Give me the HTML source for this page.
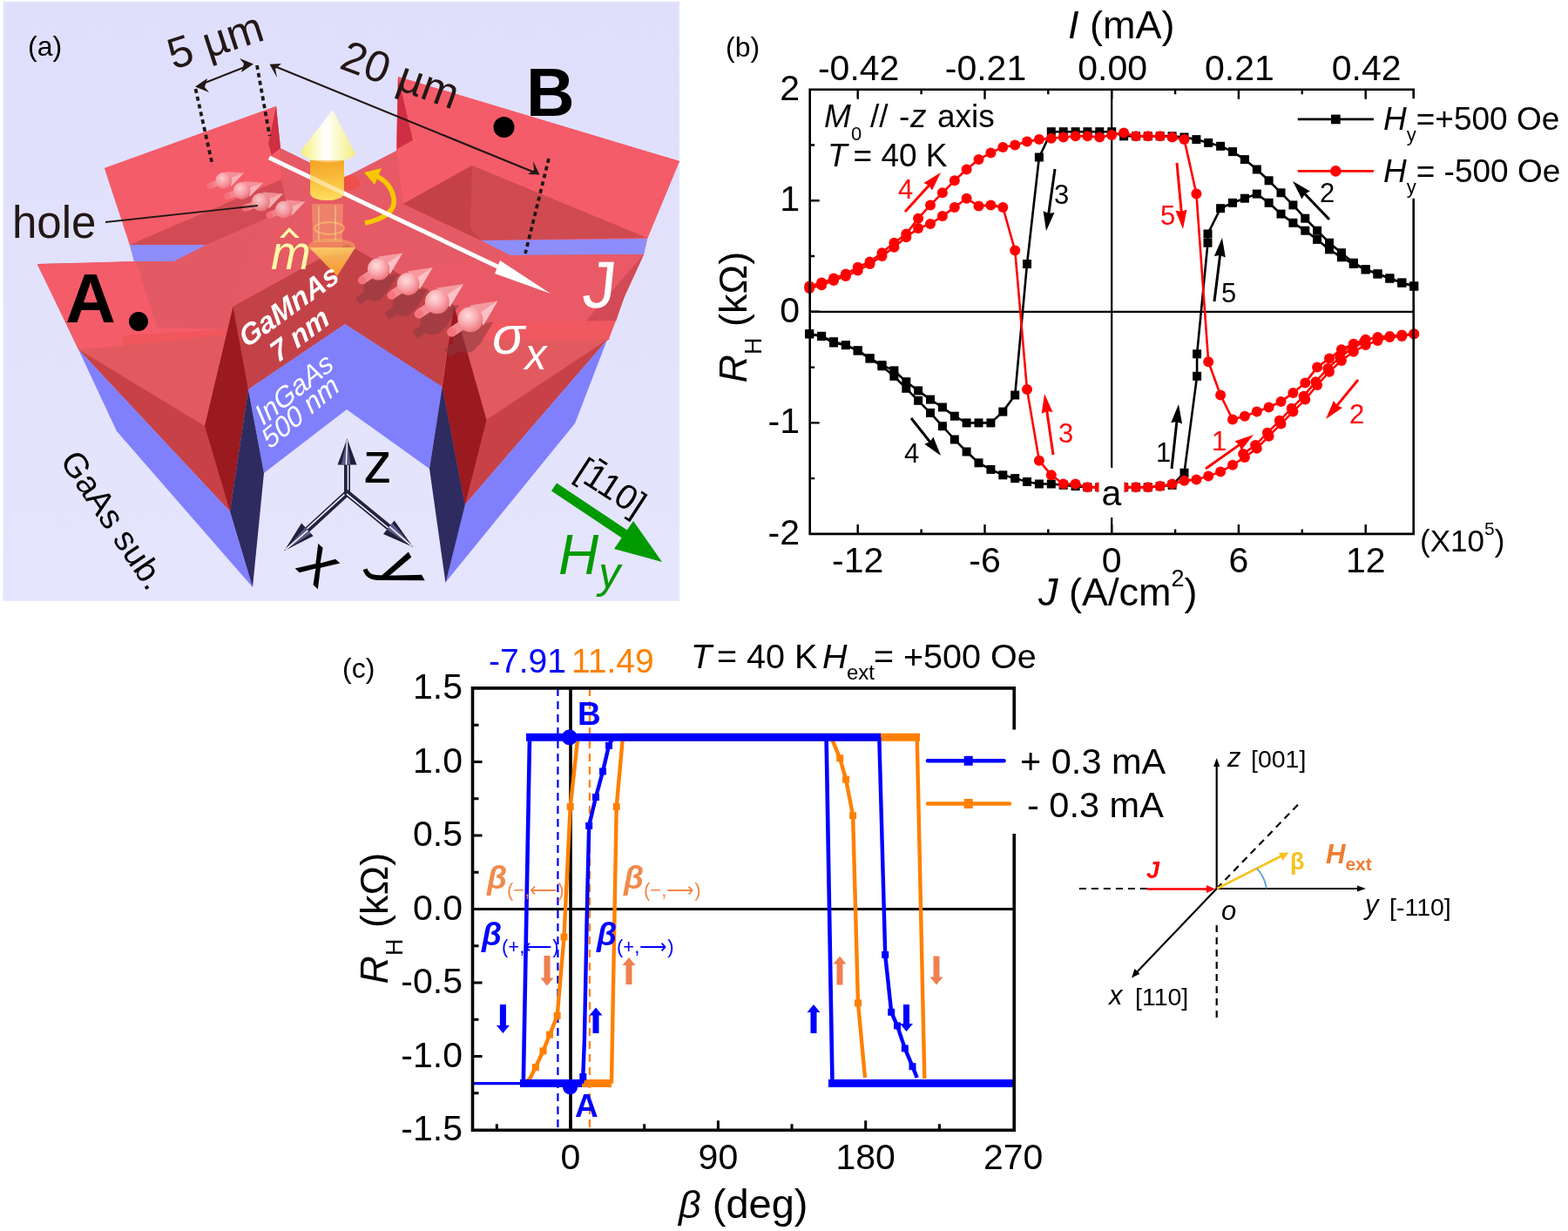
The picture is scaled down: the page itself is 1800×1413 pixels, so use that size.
<!DOCTYPE html>
<html><head><meta charset="utf-8"><title>figure</title>
<style>html,body{margin:0;padding:0;background:#fff;}svg{display:block;}</style></head>
<body><svg width="1800" height="1413" viewBox="0 0 1800 1413" font-family="'Liberation Sans', Arial, sans-serif">
<rect width="1800" height="1413" fill="#fff"/>
<g id="pa">
<linearGradient id="lav" x1="0" x2="0" y1="0" y2="1"><stop offset="0" stop-color="#dfdffc"/><stop offset="1" stop-color="#e5e5fd"/></linearGradient>
<rect x="3" y="1.5" width="777.5" height="688.5" fill="#efeffd"/>
<rect x="4.5" y="2.2" width="775" height="687.3" fill="url(#lav)"/>
<polygon points="120,193 317,122 322,170 393,205 455,173 457,88 780,185 743,274 739,292 717,340 697,390 533,580 507,444 396,372 285,447 264,587 90,401 43,303 154,300 149,281" fill="#e55a64" />
<polygon points="120,193 317,122 321,169 323,206 149,281" fill="#f55c6a" />
<polygon points="149,281 323,206 330,240 237,281" fill="#d24b54" />
<polygon points="308,165 317,122 322,170 312,178" fill="#cf2f44" />
<polygon points="149,281 237,281 200,300 154,300" fill="#8d8dfb" />
<polygon points="457,88 780,185 743,274 552,276 463,234 455,171" fill="#f55c6a" />
<polygon points="463,234 542,190 743,273 552,276" fill="#d04a52" />
<polygon points="463,234 542,190 540,262 552,276" fill="#c44247" />
<polygon points="457,88 474,161 455.7,171" fill="#cf2f44" />
<polygon points="552,276 743,274 739,292 586,293" fill="#8d8dfb" />
<polygon points="586,293 739,292 717,340 697,390 558,482 521,350 470,310" fill="#e95a66" />
<polygon points="521,372 700,389 558.5,482 535,430" fill="#e25a5f" />
<polygon points="739,292 672,369 707,369 717,340" fill="#d24a56" />
<polygon points="548,370 707,368 699,389 552,390" fill="#f1575e" />
<polygon points="43,303 200,300 237,281 300,262 267,352 235,489 90,401" fill="#e45a64" />
<polygon points="91,401 262,380 267,352 235,489" fill="#e25a5f" />
<polygon points="43,304 156,300 180,376 262,378 260,384 140,397 91,401" fill="#f55c6a" />
<polygon points="140,385 262,378 260,384 140,397" fill="#f1565c" />
<polygon points="90,401 235,489 264,587" fill="#c84146" />
<polygon points="697,390 558,482 533,580" fill="#c84146" />
<polygon points="267,352 398,280 521,350 507,444 396,372 285,447" fill="#c34247" />
<polygon points="285,447 396,372 508,444 493,538 398,470 303,543" fill="#8080fd" />
<polygon points="90,401 134,495 290,674 264,587" fill="#8080fd" />
<polygon points="697,390 660,486 511,669 533,580" fill="#8080fd" />
<polygon points="267.5,352 235,489 264,587 285,447" fill="#9b1a1f" />
<polygon points="285,447 264,587 290,674 303,543" fill="#2d2b60" />
<polygon points="521,350 507.7,444 533.7,580 558.5,482" fill="#9b1a1f" />
<polygon points="507.7,444 493,538 511.5,669 533.7,580" fill="#2d2b60" />
<defs><linearGradient id="yc" x1="0" x2="1"><stop offset="0" stop-color="#f7f07a"/><stop offset="0.45" stop-color="#ffffff"/><stop offset="1" stop-color="#f5ee80"/></linearGradient><linearGradient id="yb" x1="0" x2="0" y1="0" y2="1"><stop offset="0" stop-color="#ffe36a"/><stop offset="1" stop-color="#f5a623"/></linearGradient><linearGradient id="gd" x1="0" x2="0" y1="0" y2="1"><stop offset="0" stop-color="#ffd86a" stop-opacity="0.5"/><stop offset="1" stop-color="#ff9a2a" stop-opacity="0.85"/></linearGradient><radialGradient id="sph" cx="0.4" cy="0.35" r="0.65"><stop offset="0" stop-color="#ffdede"/><stop offset="0.55" stop-color="#f9aab0"/><stop offset="1" stop-color="#ef7880"/></radialGradient></defs>
<linearGradient id="gc" x1="0" x2="0" y1="0" y2="1"><stop offset="0" stop-color="#f6a21c"/><stop offset="1" stop-color="#ffe35e"/></linearGradient>
<linearGradient id="gg" x1="0" x2="0" y1="0" y2="1"><stop offset="0" stop-color="#ffdc6a" stop-opacity="0.75"/><stop offset="1" stop-color="#ff9a2a" stop-opacity="0.95"/></linearGradient>
<path d="M358,234 L394,234 L393,278 L359,278 Z" fill="#ffd878" opacity="0.32"/><path d="M366,236 L366,276 M385,236 L385,276" stroke="#ffe9a0" stroke-width="1.5" opacity="0.5"/>
<ellipse cx="381" cy="283" rx="27" ry="9.5" fill="#ffcf5a" opacity="0.35"/><ellipse cx="378" cy="262" rx="17" ry="7" fill="none" stroke="#ffd96a" stroke-width="2" opacity="0.5"/>
<path d="M355,284 L408,284 L387,317 Z" fill="url(#gg)"/>
<ellipse cx="402" cy="210" rx="11" ry="9" fill="#f24a3c" opacity="0.7"/>
<path d="M356,184 L395,184 L395,222 A19.5,8 0 0 1 356,222 Z" fill="url(#gc)" opacity="0.92"/>
<path d="M347,171 L382,126 L408,177 A30.5,12 0 0 1 347,171 Z" fill="url(#yc)"/>
<path d="M419,256 Q455,248 452,228 Q449,210 432,202" stroke="#f6c800" stroke-width="5.5" fill="none"/>
<polygon points="418,198 438,193 430,212" fill="#f6c800"/>
<line x1="309" y1="181" x2="590" y2="315" stroke="#fff" stroke-width="5"/>
<path d="M356,184 L395,184 L395,222 A19.5,8 0 0 1 356,222 Z" fill="url(#gc)" opacity="0.55"/>
<polygon points="632,337 574,299 568,314" fill="#fff"/>
<g opacity="0.85"><line x1="256.8" y1="207.4" x2="240.8" y2="213.5" stroke="#f48a92" stroke-width="7.1"/><circle cx="240.8" cy="213.5" r="3.5" fill="#f7737d"/><polygon points="279.9,198.6 265.4,213.8 258.9,196.9" fill="#f69aa1"/><polygon points="279.9,198.6 263.9,204.7 265.4,213.8" fill="#fbc2c6"/><circle cx="256.8" cy="207.4" r="9.5" fill="url(#sph)"/></g>
<g opacity="0.85"><line x1="277.7" y1="219" x2="260.9" y2="225.4" stroke="#f48a92" stroke-width="7.5"/><circle cx="260.9" cy="225.4" r="3.7" fill="#f7737d"/><polygon points="302.0,209.7 286.7,225.7 279.9,208.0" fill="#f69aa1"/><polygon points="302.0,209.7 285.2,216.1 286.7,225.7" fill="#fbc2c6"/><circle cx="277.7" cy="219" r="10" fill="url(#sph)"/></g>
<g opacity="0.85"><line x1="299.4" y1="232" x2="281.8" y2="238.8" stroke="#f48a92" stroke-width="7.9"/><circle cx="281.8" cy="238.8" r="3.9" fill="#f7737d"/><polygon points="324.9,222.2 308.9,239.1 301.7,220.4" fill="#f69aa1"/><polygon points="324.9,222.2 307.2,229.0 308.9,239.1" fill="#fbc2c6"/><circle cx="299.4" cy="232" r="10.5" fill="url(#sph)"/></g>
<g opacity="0.85"><line x1="326" y1="240.6" x2="309.2" y2="247.0" stroke="#f48a92" stroke-width="7.5"/><circle cx="309.2" cy="247.0" r="3.7" fill="#f7737d"/><polygon points="350.3,231.3 335.0,247.3 328.2,229.6" fill="#f69aa1"/><polygon points="350.3,231.3 333.5,237.7 335.0,247.3" fill="#fbc2c6"/><circle cx="326" cy="240.6" r="10" fill="url(#sph)"/></g>
<g fill="#8a3a40" stroke="#8a3a40" opacity="0.55"><polygon points="457.0,314.4 442.7,338.6 429.2,318.6" stroke="none"/><line x1="429.6" y1="332.9" x2="410.6" y2="345.7" stroke-width="9.5"/><circle cx="429.6" cy="332.9" r="12.7" stroke="none"/></g><g opacity="1.0"><line x1="434.6" y1="308.9" x2="415.6" y2="321.7" stroke="#f48a92" stroke-width="9.5"/><circle cx="415.6" cy="321.7" r="4.7" fill="#f7737d"/><polygon points="462.0,290.4 447.7,314.6 434.2,294.6" fill="#f69aa1"/><polygon points="462.0,290.4 443.0,303.2 447.7,314.6" fill="#fbc2c6"/><circle cx="434.6" cy="308.9" r="12.7" fill="url(#sph)"/></g>
<g fill="#8a3a40" stroke="#8a3a40" opacity="0.55"><polygon points="491.6,331.0 477.0,355.8 463.2,335.3" stroke="none"/><line x1="463.6" y1="349.9" x2="444.2" y2="363.0" stroke-width="9.8"/><circle cx="463.6" cy="349.9" r="13" stroke="none"/></g><g opacity="1.0"><line x1="468.6" y1="325.9" x2="449.2" y2="339.0" stroke="#f48a92" stroke-width="9.8"/><circle cx="449.2" cy="339.0" r="4.8" fill="#f7737d"/><polygon points="496.6,307.0 482.0,331.8 468.2,311.3" fill="#f69aa1"/><polygon points="496.6,307.0 477.2,320.1 482.0,331.8" fill="#fbc2c6"/><circle cx="468.6" cy="325.9" r="13" fill="url(#sph)"/></g>
<g fill="#8a3a40" stroke="#8a3a40" opacity="0.55"><polygon points="527.0,349.9 511.2,376.6 496.3,354.6" stroke="none"/><line x1="496.8" y1="370.3" x2="475.9" y2="384.4" stroke-width="10.5"/><circle cx="496.8" cy="370.3" r="14" stroke="none"/></g><g opacity="1.0"><line x1="501.8" y1="346.3" x2="480.9" y2="360.4" stroke="#f48a92" stroke-width="10.5"/><circle cx="480.9" cy="360.4" r="5.2" fill="#f7737d"/><polygon points="532.0,325.9 516.2,352.6 501.3,330.6" fill="#f69aa1"/><polygon points="532.0,325.9 511.1,340.0 516.2,352.6" fill="#fbc2c6"/><circle cx="501.8" cy="346.3" r="14" fill="url(#sph)"/></g>
<g fill="#8a3a40" stroke="#8a3a40" opacity="0.55"><polygon points="566.3,369.6 549.9,397.3 534.5,374.4" stroke="none"/><line x1="535" y1="390.7" x2="513.4" y2="405.3" stroke-width="10.9"/><circle cx="535" cy="390.7" r="14.5" stroke="none"/></g><g opacity="1.0"><line x1="540" y1="366.7" x2="518.4" y2="381.3" stroke="#f48a92" stroke-width="10.9"/><circle cx="518.4" cy="381.3" r="5.4" fill="#f7737d"/><polygon points="571.3,345.6 554.9,373.3 539.5,350.4" fill="#f69aa1"/><polygon points="571.3,345.6 549.6,360.2 554.9,373.3" fill="#fbc2c6"/><circle cx="540" cy="366.7" r="14.5" fill="url(#sph)"/></g>
<g stroke="#231816" stroke-width="2.2" fill="none"><line x1="229" y1="97.5" x2="286" y2="75"/><line x1="314" y1="75.5" x2="615" y2="198.5"/></g>
<polygon points="224,99.6 238,90 235,100 240,106" fill="#231816"/>
<polygon points="291,73.5 277,83 280,73 275,67" fill="#231816"/>
<polygon points="309.5,73.8 323,73 316,79 318,89" fill="#231816"/>
<polygon points="619.5,200.5 606,200 613,195 612,185" fill="#231816"/>
<g stroke="#231816" stroke-width="3.8" stroke-dasharray="5,4" fill="none"><line x1="224.5" y1="102" x2="244" y2="190"/><line x1="295" y1="75" x2="309.5" y2="156"/><line x1="630" y1="182" x2="603" y2="291"/></g>
<line x1="121" y1="255" x2="296" y2="236" stroke="#231816" stroke-width="1.8"/>
<text x="32" y="64" font-size="32">(a)</text>
<text transform="translate(199,80) rotate(-18)" font-size="50" fill="#231816">5 µm</text>
<text transform="translate(388,78) rotate(20)" font-size="50" fill="#231816">20 µm</text>
<text x="14" y="273" font-size="51" fill="#231816">hole</text>
<text x="75" y="370" font-size="80" font-weight="bold">A</text>
<circle cx="159" cy="369" r="11" fill="#000"/>
<text x="604" y="132.5" font-size="77" font-weight="bold">B</text>
<circle cx="578.5" cy="146" r="12" fill="#000"/>
<text x="311" y="309" font-size="55" font-style="italic" fill="#fff8a8">m</text>
<polygon points="321,273 332,261 344,273 339,273 332,266 326,273" fill="#fff8a8"/>
<text transform="translate(667,352.5) skewX(-6)" font-size="76" fill="#fff">J</text>
<text x="565" y="406" font-size="62" font-style="italic" fill="#fff">σ<tspan font-size="50" dy="18">x</tspan></text>
<text transform="translate(283,400) rotate(-36) skewX(-6)" font-size="33" font-style="italic" font-weight="bold" fill="#fff">GaMnAs</text>
<text transform="translate(319,417) rotate(-37) skewX(-6)" font-size="33" font-style="italic" font-weight="bold" fill="#fff">7 nm</text>
<text transform="translate(302,489) rotate(-39) skewX(-5)" font-size="32" font-style="italic" fill="#fff">InGaAs</text>
<text transform="translate(310,516) rotate(-40) skewX(-5)" font-size="32" font-style="italic" fill="#fff">500 nm</text>
<text transform="translate(68,529) rotate(56)" font-size="39" fill="#000">GaAs sub.</text>
<line x1="398.5" y1="566" x2="398.5" y2="533.5" stroke="#23233f" stroke-width="7" stroke-linecap="round"/><line x1="399.5" y1="566.0" x2="399.5" y2="533.5" stroke="#f4f4ff" stroke-width="1.6"/><polygon points="398.5,503.5 409.5,533.5 387.5,533.5" fill="#20203a"/><polygon points="398.5,503.5 402.4,533.5 391.9,533.5" fill="#5c5c8c"/><line x1="398.5" y1="505.5" x2="397.4" y2="533.5" stroke="#ffffff" stroke-width="1.4"/>
<line x1="398.5" y1="566" x2="352.8" y2="608.0" stroke="#23233f" stroke-width="7" stroke-linecap="round"/><line x1="397.8" y1="565.3" x2="352.1" y2="607.2" stroke="#f4f4ff" stroke-width="1.6"/><polygon points="326.3,632.3 346.1,600.6 359.6,615.3" fill="#20203a"/><polygon points="326.3,632.3 350.4,605.4 356.9,612.4" fill="#5c5c8c"/><line x1="327.8" y1="630.9" x2="353.5" y2="608.7" stroke="#ffffff" stroke-width="1.4"/>
<line x1="398.5" y1="566" x2="446.3" y2="605.2" stroke="#23233f" stroke-width="7" stroke-linecap="round"/><line x1="397.9" y1="566.8" x2="445.7" y2="606.0" stroke="#f4f4ff" stroke-width="1.6"/><polygon points="474.2,628 440.0,612.9 452.7,597.5" fill="#20203a"/><polygon points="474.2,628 444.1,607.9 450.2,600.5" fill="#5c5c8c"/><line x1="472.7" y1="626.7" x2="447.0" y2="604.4" stroke="#ffffff" stroke-width="1.4"/>
<text x="417" y="554" font-size="66">z</text>
<text transform="translate(338,652) rotate(42)" font-size="74">x</text>
<text transform="translate(432,650) rotate(60)" font-size="76" font-style="italic">y</text>
<g transform="translate(658,547) rotate(33)"><text font-size="40">[110]</text><line x1="14" y1="-33" x2="25" y2="-33" stroke="#000" stroke-width="3"/></g>
<line x1="636" y1="559" x2="720" y2="615" stroke="#009a00" stroke-width="11"/>
<polygon points="760,645 705,630 727,598" fill="#009a00"/>
<text x="641" y="659" font-size="64" font-style="italic" fill="#009a00">H<tspan font-size="50" dy="16">y</tspan></text>
</g>
<g id="pb">
<line x1="929.7" y1="357.8" x2="1622.7" y2="357.8" stroke="#000" stroke-width="2.2"/>
<line x1="1276.2" y1="102.7" x2="1276.2" y2="612.9" stroke="#000" stroke-width="2.2"/>
<polyline points="1276.2,559.3 1290.1,559.3 1304.0,559.3 1317.8,559.3 1331.7,558.1 1345.6,556.8 1359.5,542.7 1374.1,431.8 1374.1,406.3 1386.5,278.7 1386.5,268.5 1401.1,239.2 1415.0,232.8 1428.9,227.7 1442.8,222.6 1456.6,232.8 1470.5,245.6 1484.4,255.8 1498.3,264.7 1512.1,274.9 1526.0,286.4 1539.9,295.3 1553.8,303.0 1567.7,309.3 1581.5,314.4 1595.4,319.5 1609.3,324.6 1623.2,328.5" fill="none" stroke="#000" stroke-width="2.6" stroke-linejoin="round"/>
<polyline points="1623.2,328.5 1609.3,324.6 1595.4,319.5 1581.5,314.4 1567.7,309.3 1553.8,301.7 1539.9,290.2 1526.0,278.7 1512.1,264.7 1498.3,250.7 1484.4,235.4 1470.5,221.3 1456.6,207.3 1442.8,194.5 1428.9,183.1 1415.0,174.1 1401.1,167.8 1387.2,163.9 1373.4,160.1 1359.5,157.5 1345.6,156.3 1331.7,156.3 1317.8,156.3 1304.0,156.3 1290.1,156.3 1276.2,151.2 1262.3,151.2 1248.4,151.2 1234.6,151.2 1220.7,151.2 1206.8,151.2 1192.9,180.5 1179.0,303.0 1165.2,453.5 1151.3,472.6 1137.4,485.4 1123.5,485.4 1109.6,485.4 1095.8,477.7 1081.9,467.5 1068.0,458.6 1054.1,448.4 1040.3,438.2 1026.4,425.4 1012.5,419.0 998.6,411.4 984.7,402.4 970.9,396.1 957.0,392.2 943.1,385.9 929.2,383.3" fill="none" stroke="#000" stroke-width="2.6" stroke-linejoin="round"/>
<polyline points="929.2,383.3 943.1,385.9 957.0,393.5 970.9,396.1 984.7,402.4 998.6,411.4 1012.5,420.3 1026.4,431.8 1040.3,445.8 1054.1,459.8 1068.0,473.9 1081.9,489.2 1095.8,504.5 1109.6,518.5 1123.5,531.3 1137.4,538.9 1151.3,545.3 1165.2,549.1 1179.0,553.0 1192.9,555.5 1206.8,555.5 1220.7,556.8 1234.6,558.1 1248.4,559.3 1262.3,559.3 1276.2,559.3" fill="none" stroke="#000" stroke-width="2.6" stroke-linejoin="round"/>
<rect x="1271.2" y="554.3" width="10" height="10" fill="#000"/><rect x="1285.1" y="554.3" width="10" height="10" fill="#000"/><rect x="1299.0" y="554.3" width="10" height="10" fill="#000"/><rect x="1312.8" y="554.3" width="10" height="10" fill="#000"/><rect x="1326.7" y="553.1" width="10" height="10" fill="#000"/><rect x="1340.6" y="551.8" width="10" height="10" fill="#000"/><rect x="1354.5" y="537.7" width="10" height="10" fill="#000"/><rect x="1369.1" y="426.8" width="10" height="10" fill="#000"/><rect x="1369.1" y="401.3" width="10" height="10" fill="#000"/><rect x="1381.5" y="273.7" width="10" height="10" fill="#000"/><rect x="1381.5" y="263.5" width="10" height="10" fill="#000"/><rect x="1396.1" y="234.2" width="10" height="10" fill="#000"/><rect x="1410.0" y="227.8" width="10" height="10" fill="#000"/><rect x="1423.9" y="222.7" width="10" height="10" fill="#000"/><rect x="1437.8" y="217.6" width="10" height="10" fill="#000"/><rect x="1451.6" y="227.8" width="10" height="10" fill="#000"/><rect x="1465.5" y="240.6" width="10" height="10" fill="#000"/><rect x="1479.4" y="250.8" width="10" height="10" fill="#000"/><rect x="1493.3" y="259.7" width="10" height="10" fill="#000"/><rect x="1507.1" y="269.9" width="10" height="10" fill="#000"/><rect x="1521.0" y="281.4" width="10" height="10" fill="#000"/><rect x="1534.9" y="290.3" width="10" height="10" fill="#000"/><rect x="1548.8" y="298.0" width="10" height="10" fill="#000"/><rect x="1562.7" y="304.3" width="10" height="10" fill="#000"/><rect x="1576.5" y="309.4" width="10" height="10" fill="#000"/><rect x="1590.4" y="314.5" width="10" height="10" fill="#000"/><rect x="1604.3" y="319.6" width="10" height="10" fill="#000"/><rect x="1618.2" y="323.5" width="10" height="10" fill="#000"/>
<rect x="1618.2" y="323.5" width="10" height="10" fill="#000"/><rect x="1604.3" y="319.6" width="10" height="10" fill="#000"/><rect x="1590.4" y="314.5" width="10" height="10" fill="#000"/><rect x="1576.5" y="309.4" width="10" height="10" fill="#000"/><rect x="1562.7" y="304.3" width="10" height="10" fill="#000"/><rect x="1548.8" y="296.7" width="10" height="10" fill="#000"/><rect x="1534.9" y="285.2" width="10" height="10" fill="#000"/><rect x="1521.0" y="273.7" width="10" height="10" fill="#000"/><rect x="1507.1" y="259.7" width="10" height="10" fill="#000"/><rect x="1493.3" y="245.7" width="10" height="10" fill="#000"/><rect x="1479.4" y="230.4" width="10" height="10" fill="#000"/><rect x="1465.5" y="216.3" width="10" height="10" fill="#000"/><rect x="1451.6" y="202.3" width="10" height="10" fill="#000"/><rect x="1437.8" y="189.5" width="10" height="10" fill="#000"/><rect x="1423.9" y="178.1" width="10" height="10" fill="#000"/><rect x="1410.0" y="169.1" width="10" height="10" fill="#000"/><rect x="1396.1" y="162.8" width="10" height="10" fill="#000"/><rect x="1382.2" y="158.9" width="10" height="10" fill="#000"/><rect x="1368.4" y="155.1" width="10" height="10" fill="#000"/><rect x="1354.5" y="152.5" width="10" height="10" fill="#000"/><rect x="1340.6" y="151.3" width="10" height="10" fill="#000"/><rect x="1326.7" y="151.3" width="10" height="10" fill="#000"/><rect x="1312.8" y="151.3" width="10" height="10" fill="#000"/><rect x="1299.0" y="151.3" width="10" height="10" fill="#000"/><rect x="1285.1" y="151.3" width="10" height="10" fill="#000"/><rect x="1271.2" y="146.2" width="10" height="10" fill="#000"/><rect x="1257.3" y="146.2" width="10" height="10" fill="#000"/><rect x="1243.4" y="146.2" width="10" height="10" fill="#000"/><rect x="1229.6" y="146.2" width="10" height="10" fill="#000"/><rect x="1215.7" y="146.2" width="10" height="10" fill="#000"/><rect x="1201.8" y="146.2" width="10" height="10" fill="#000"/><rect x="1187.9" y="175.5" width="10" height="10" fill="#000"/><rect x="1174.0" y="298.0" width="10" height="10" fill="#000"/><rect x="1160.2" y="448.5" width="10" height="10" fill="#000"/><rect x="1146.3" y="467.6" width="10" height="10" fill="#000"/><rect x="1132.4" y="480.4" width="10" height="10" fill="#000"/><rect x="1118.5" y="480.4" width="10" height="10" fill="#000"/><rect x="1104.6" y="480.4" width="10" height="10" fill="#000"/><rect x="1090.8" y="472.7" width="10" height="10" fill="#000"/><rect x="1076.9" y="462.5" width="10" height="10" fill="#000"/><rect x="1063.0" y="453.6" width="10" height="10" fill="#000"/><rect x="1049.1" y="443.4" width="10" height="10" fill="#000"/><rect x="1035.3" y="433.2" width="10" height="10" fill="#000"/><rect x="1021.4" y="420.4" width="10" height="10" fill="#000"/><rect x="1007.5" y="414.0" width="10" height="10" fill="#000"/><rect x="993.6" y="406.4" width="10" height="10" fill="#000"/><rect x="979.7" y="397.4" width="10" height="10" fill="#000"/><rect x="965.9" y="391.1" width="10" height="10" fill="#000"/><rect x="952.0" y="387.2" width="10" height="10" fill="#000"/><rect x="938.1" y="380.9" width="10" height="10" fill="#000"/><rect x="924.2" y="378.3" width="10" height="10" fill="#000"/>
<rect x="924.2" y="378.3" width="10" height="10" fill="#000"/><rect x="938.1" y="380.9" width="10" height="10" fill="#000"/><rect x="952.0" y="388.5" width="10" height="10" fill="#000"/><rect x="965.9" y="391.1" width="10" height="10" fill="#000"/><rect x="979.7" y="397.4" width="10" height="10" fill="#000"/><rect x="993.6" y="406.4" width="10" height="10" fill="#000"/><rect x="1007.5" y="415.3" width="10" height="10" fill="#000"/><rect x="1021.4" y="426.8" width="10" height="10" fill="#000"/><rect x="1035.3" y="440.8" width="10" height="10" fill="#000"/><rect x="1049.1" y="454.8" width="10" height="10" fill="#000"/><rect x="1063.0" y="468.9" width="10" height="10" fill="#000"/><rect x="1076.9" y="484.2" width="10" height="10" fill="#000"/><rect x="1090.8" y="499.5" width="10" height="10" fill="#000"/><rect x="1104.6" y="513.5" width="10" height="10" fill="#000"/><rect x="1118.5" y="526.3" width="10" height="10" fill="#000"/><rect x="1132.4" y="533.9" width="10" height="10" fill="#000"/><rect x="1146.3" y="540.3" width="10" height="10" fill="#000"/><rect x="1160.2" y="544.1" width="10" height="10" fill="#000"/><rect x="1174.0" y="548.0" width="10" height="10" fill="#000"/><rect x="1187.9" y="550.5" width="10" height="10" fill="#000"/><rect x="1201.8" y="550.5" width="10" height="10" fill="#000"/><rect x="1215.7" y="551.8" width="10" height="10" fill="#000"/><rect x="1229.6" y="553.1" width="10" height="10" fill="#000"/><rect x="1243.4" y="554.3" width="10" height="10" fill="#000"/><rect x="1257.3" y="554.3" width="10" height="10" fill="#000"/><rect x="1271.2" y="554.3" width="10" height="10" fill="#000"/>
<polyline points="1276.2,559.3 1290.1,559.3 1304.0,559.3 1317.8,559.3 1331.7,558.1 1345.6,555.5 1359.5,551.7 1373.4,550.4 1387.2,546.6 1401.1,541.5 1415.0,533.8 1428.9,524.9 1442.8,514.7 1456.6,500.7 1470.5,486.6 1484.4,472.6 1498.3,458.6 1512.1,442.0 1526.0,426.7 1539.9,413.9 1553.8,403.7 1567.7,396.1 1581.5,391.0 1595.4,387.1 1609.3,385.9 1623.2,383.3" fill="none" stroke="#ff0000" stroke-width="2.6" stroke-linejoin="round"/>
<polyline points="1427.2,521.1 1441.1,510.9 1454.9,496.8 1468.8,482.8 1482.7,468.8 1496.6,454.7 1510.4,438.2 1524.3,422.9 1538.2,410.1 1552.1,399.9 1566.0,392.2" fill="none" stroke="#ff0000" stroke-width="2.6" stroke-linejoin="round"/>
<polyline points="1623.2,383.3 1609.3,384.6 1595.4,385.9 1581.5,387.1 1567.7,389.7 1553.8,394.8 1539.9,401.2 1526.0,411.4 1512.1,421.6 1498.3,439.4 1484.4,450.9 1470.5,461.1 1456.6,467.5 1442.8,472.6 1428.9,477.7 1415.0,481.5 1401.1,453.5 1387.2,415.2 1373.4,222.6 1359.5,160.1 1345.6,157.5 1331.7,156.3 1317.8,156.3 1304.0,156.3 1290.1,152.4 1276.2,155.0 1262.3,157.5 1248.4,156.3 1234.6,156.3 1220.7,157.5 1206.8,158.8 1192.9,160.1 1179.0,162.6 1165.2,166.5 1151.3,169.0 1137.4,175.4 1123.5,183.1 1109.6,194.5 1095.8,207.3 1081.9,221.3 1068.0,235.4 1054.1,250.7 1040.3,268.5 1026.4,278.7 1012.5,290.2 998.6,300.4 984.7,306.8 970.9,314.4 957.0,319.5 943.1,324.6 929.2,328.5" fill="none" stroke="#ff0000" stroke-width="2.6" stroke-linejoin="round"/>
<polyline points="929.2,331.0 943.1,327.2 957.0,322.1 970.9,317.0 984.7,310.6 998.6,303.0 1012.5,294.0 1026.4,283.8 1040.3,272.3 1054.1,262.1 1068.0,257.0 1081.9,248.1 1095.8,237.9 1109.6,227.7 1123.5,236.6 1137.4,235.4 1151.3,237.9 1165.2,287.6 1179.0,447.1 1192.9,528.7 1206.8,545.3 1220.7,555.5 1234.6,555.5 1248.4,559.3 1262.3,559.3 1276.2,559.3" fill="none" stroke="#ff0000" stroke-width="2.6" stroke-linejoin="round"/>
<circle cx="1276.2" cy="559.3" r="6" fill="#ff0000"/><circle cx="1290.1" cy="559.3" r="6" fill="#ff0000"/><circle cx="1304.0" cy="559.3" r="6" fill="#ff0000"/><circle cx="1317.8" cy="559.3" r="6" fill="#ff0000"/><circle cx="1331.7" cy="558.1" r="6" fill="#ff0000"/><circle cx="1345.6" cy="555.5" r="6" fill="#ff0000"/><circle cx="1359.5" cy="551.7" r="6" fill="#ff0000"/><circle cx="1373.4" cy="550.4" r="6" fill="#ff0000"/><circle cx="1387.2" cy="546.6" r="6" fill="#ff0000"/><circle cx="1401.1" cy="541.5" r="6" fill="#ff0000"/><circle cx="1415.0" cy="533.8" r="6" fill="#ff0000"/><circle cx="1428.9" cy="524.9" r="6" fill="#ff0000"/><circle cx="1442.8" cy="514.7" r="6" fill="#ff0000"/><circle cx="1456.6" cy="500.7" r="6" fill="#ff0000"/><circle cx="1470.5" cy="486.6" r="6" fill="#ff0000"/><circle cx="1484.4" cy="472.6" r="6" fill="#ff0000"/><circle cx="1498.3" cy="458.6" r="6" fill="#ff0000"/><circle cx="1512.1" cy="442.0" r="6" fill="#ff0000"/><circle cx="1526.0" cy="426.7" r="6" fill="#ff0000"/><circle cx="1539.9" cy="413.9" r="6" fill="#ff0000"/><circle cx="1553.8" cy="403.7" r="6" fill="#ff0000"/><circle cx="1567.7" cy="396.1" r="6" fill="#ff0000"/><circle cx="1581.5" cy="391.0" r="6" fill="#ff0000"/><circle cx="1595.4" cy="387.1" r="6" fill="#ff0000"/><circle cx="1609.3" cy="385.9" r="6" fill="#ff0000"/><circle cx="1623.2" cy="383.3" r="6" fill="#ff0000"/>
<circle cx="1427.2" cy="521.1" r="6" fill="#ff0000"/><circle cx="1441.1" cy="510.9" r="6" fill="#ff0000"/><circle cx="1454.9" cy="496.8" r="6" fill="#ff0000"/><circle cx="1468.8" cy="482.8" r="6" fill="#ff0000"/><circle cx="1482.7" cy="468.8" r="6" fill="#ff0000"/><circle cx="1496.6" cy="454.7" r="6" fill="#ff0000"/><circle cx="1510.4" cy="438.2" r="6" fill="#ff0000"/><circle cx="1524.3" cy="422.9" r="6" fill="#ff0000"/><circle cx="1538.2" cy="410.1" r="6" fill="#ff0000"/><circle cx="1552.1" cy="399.9" r="6" fill="#ff0000"/><circle cx="1566.0" cy="392.2" r="6" fill="#ff0000"/>
<circle cx="1623.2" cy="383.3" r="6" fill="#ff0000"/><circle cx="1609.3" cy="384.6" r="6" fill="#ff0000"/><circle cx="1595.4" cy="385.9" r="6" fill="#ff0000"/><circle cx="1581.5" cy="387.1" r="6" fill="#ff0000"/><circle cx="1567.7" cy="389.7" r="6" fill="#ff0000"/><circle cx="1553.8" cy="394.8" r="6" fill="#ff0000"/><circle cx="1539.9" cy="401.2" r="6" fill="#ff0000"/><circle cx="1526.0" cy="411.4" r="6" fill="#ff0000"/><circle cx="1512.1" cy="421.6" r="6" fill="#ff0000"/><circle cx="1498.3" cy="439.4" r="6" fill="#ff0000"/><circle cx="1484.4" cy="450.9" r="6" fill="#ff0000"/><circle cx="1470.5" cy="461.1" r="6" fill="#ff0000"/><circle cx="1456.6" cy="467.5" r="6" fill="#ff0000"/><circle cx="1442.8" cy="472.6" r="6" fill="#ff0000"/><circle cx="1428.9" cy="477.7" r="6" fill="#ff0000"/><circle cx="1415.0" cy="481.5" r="6" fill="#ff0000"/><circle cx="1401.1" cy="453.5" r="6" fill="#ff0000"/><circle cx="1387.2" cy="415.2" r="6" fill="#ff0000"/><circle cx="1373.4" cy="222.6" r="6" fill="#ff0000"/><circle cx="1359.5" cy="160.1" r="6" fill="#ff0000"/><circle cx="1345.6" cy="157.5" r="6" fill="#ff0000"/><circle cx="1331.7" cy="156.3" r="6" fill="#ff0000"/><circle cx="1317.8" cy="156.3" r="6" fill="#ff0000"/><circle cx="1304.0" cy="156.3" r="6" fill="#ff0000"/><circle cx="1290.1" cy="152.4" r="6" fill="#ff0000"/><circle cx="1276.2" cy="155.0" r="6" fill="#ff0000"/><circle cx="1262.3" cy="157.5" r="6" fill="#ff0000"/><circle cx="1248.4" cy="156.3" r="6" fill="#ff0000"/><circle cx="1234.6" cy="156.3" r="6" fill="#ff0000"/><circle cx="1220.7" cy="157.5" r="6" fill="#ff0000"/><circle cx="1206.8" cy="158.8" r="6" fill="#ff0000"/><circle cx="1192.9" cy="160.1" r="6" fill="#ff0000"/><circle cx="1179.0" cy="162.6" r="6" fill="#ff0000"/><circle cx="1165.2" cy="166.5" r="6" fill="#ff0000"/><circle cx="1151.3" cy="169.0" r="6" fill="#ff0000"/><circle cx="1137.4" cy="175.4" r="6" fill="#ff0000"/><circle cx="1123.5" cy="183.1" r="6" fill="#ff0000"/><circle cx="1109.6" cy="194.5" r="6" fill="#ff0000"/><circle cx="1095.8" cy="207.3" r="6" fill="#ff0000"/><circle cx="1081.9" cy="221.3" r="6" fill="#ff0000"/><circle cx="1068.0" cy="235.4" r="6" fill="#ff0000"/><circle cx="1054.1" cy="250.7" r="6" fill="#ff0000"/><circle cx="1040.3" cy="268.5" r="6" fill="#ff0000"/><circle cx="1026.4" cy="278.7" r="6" fill="#ff0000"/><circle cx="1012.5" cy="290.2" r="6" fill="#ff0000"/><circle cx="998.6" cy="300.4" r="6" fill="#ff0000"/><circle cx="984.7" cy="306.8" r="6" fill="#ff0000"/><circle cx="970.9" cy="314.4" r="6" fill="#ff0000"/><circle cx="957.0" cy="319.5" r="6" fill="#ff0000"/><circle cx="943.1" cy="324.6" r="6" fill="#ff0000"/><circle cx="929.2" cy="328.5" r="6" fill="#ff0000"/>
<circle cx="929.2" cy="331.0" r="6" fill="#ff0000"/><circle cx="943.1" cy="327.2" r="6" fill="#ff0000"/><circle cx="957.0" cy="322.1" r="6" fill="#ff0000"/><circle cx="970.9" cy="317.0" r="6" fill="#ff0000"/><circle cx="984.7" cy="310.6" r="6" fill="#ff0000"/><circle cx="998.6" cy="303.0" r="6" fill="#ff0000"/><circle cx="1012.5" cy="294.0" r="6" fill="#ff0000"/><circle cx="1026.4" cy="283.8" r="6" fill="#ff0000"/><circle cx="1040.3" cy="272.3" r="6" fill="#ff0000"/><circle cx="1054.1" cy="262.1" r="6" fill="#ff0000"/><circle cx="1068.0" cy="257.0" r="6" fill="#ff0000"/><circle cx="1081.9" cy="248.1" r="6" fill="#ff0000"/><circle cx="1095.8" cy="237.9" r="6" fill="#ff0000"/><circle cx="1109.6" cy="227.7" r="6" fill="#ff0000"/><circle cx="1123.5" cy="236.6" r="6" fill="#ff0000"/><circle cx="1137.4" cy="235.4" r="6" fill="#ff0000"/><circle cx="1151.3" cy="237.9" r="6" fill="#ff0000"/><circle cx="1165.2" cy="287.6" r="6" fill="#ff0000"/><circle cx="1179.0" cy="447.1" r="6" fill="#ff0000"/><circle cx="1192.9" cy="528.7" r="6" fill="#ff0000"/><circle cx="1206.8" cy="545.3" r="6" fill="#ff0000"/><circle cx="1220.7" cy="555.5" r="6" fill="#ff0000"/><circle cx="1234.6" cy="555.5" r="6" fill="#ff0000"/><circle cx="1248.4" cy="559.3" r="6" fill="#ff0000"/><circle cx="1262.3" cy="559.3" r="6" fill="#ff0000"/><circle cx="1276.2" cy="559.3" r="6" fill="#ff0000"/>
<rect x="1261.5" y="537" width="29" height="57" fill="#fff"/>
<text x="1276" y="580" font-size="41" text-anchor="middle">a</text>
<path d="M1622.7,112 L1622.7,102.7 L929.7,102.7 L929.7,612.9 L1622.7,612.9 L1622.7,229" fill="none" stroke="#000" stroke-width="2.6" stroke-linecap="square"/>
<path d="M984.7,612.9v-11M984.7,102.7v11M1057.6,612.9v-5.5M1057.6,102.7v5.5M1130.5,612.9v-11M1130.5,102.7v11M1203.3,612.9v-5.5M1203.3,102.7v5.5M1276.2,612.9v-11M1276.2,102.7v11M1349.1,612.9v-5.5M1349.1,102.7v5.5M1421.9,612.9v-11M1421.9,102.7v11M1494.8,612.9v-5.5M1494.8,102.7v5.5M1567.7,612.9v-11M1567.7,102.7v11M929.7,549.1h5.5M929.7,485.4h11M929.7,421.6h5.5M929.7,357.8h11M929.7,294.0h5.5M929.7,230.2h11M929.7,166.5h5.5" stroke="#000" stroke-width="2.4" fill="none"/>
<text x="984.7" y="657.2" font-size="41" text-anchor="middle">-12</text>
<text x="1130.5" y="657.2" font-size="41" text-anchor="middle">-6</text>
<text x="1276.2" y="657.2" font-size="41" text-anchor="middle">0</text>
<text x="1421.9" y="657.2" font-size="41" text-anchor="middle">6</text>
<text x="1567.7" y="657.2" font-size="41" text-anchor="middle">12</text>
<text x="985.7" y="91.5" font-size="41" text-anchor="middle">-0.42</text>
<text x="1131.5" y="91.5" font-size="41" text-anchor="middle">-0.21</text>
<text x="1277.2" y="91.5" font-size="41" text-anchor="middle">0.00</text>
<text x="1422.9" y="91.5" font-size="41" text-anchor="middle">0.21</text>
<text x="1568.7" y="91.5" font-size="41" text-anchor="middle">0.42</text>
<text x="918" y="114.5" font-size="41" text-anchor="end">2</text>
<text x="918" y="242.1" font-size="41" text-anchor="end">1</text>
<text x="918" y="369.6" font-size="41" text-anchor="end">0</text>
<text x="918" y="497.2" font-size="41" text-anchor="end">-1</text>
<text x="918" y="624.7" font-size="41" text-anchor="end">-2</text>
<text x="1192" y="695" font-size="45"><tspan font-style="italic">J</tspan> (A/cm<tspan font-size="27" dy="-22">2</tspan><tspan dy="22">)</tspan></text>
<text x="1226" y="44.4" font-size="45"><tspan font-style="italic">I</tspan> (mA)</text>
<text transform="translate(857,439.5) rotate(-90)" font-size="45"><tspan font-style="italic">R</tspan><tspan font-size="27" dy="17">H</tspan><tspan dy="-17"> (kΩ)</tspan></text>
<text x="1630" y="632.7" font-size="35">(X10<tspan font-size="21" dy="-19">5</tspan><tspan dy="19">)</tspan></text>
<text x="833" y="65" font-size="32">(b)</text>
<g font-size="37"><text x="946" y="145.6" font-style="italic">M</text><text x="977" y="160.6" font-size="22">0</text><text x="999" y="145.6">//</text><text x="1032" y="145.6">-</text><text x="1045" y="145.6" font-style="italic">z</text><text x="1076" y="145.6">axis</text></g>
<g font-size="37"><text x="950" y="190.6" font-style="italic">T</text><text x="979.5" y="190.6">= 40 K</text></g>
<line x1="1489.8" y1="136.9" x2="1576.9" y2="136.9" stroke="#000" stroke-width="2.8"/>
<rect x="1528" y="131.6" width="10.7" height="10.7" fill="#000"/>
<line x1="1489.8" y1="196.4" x2="1576.9" y2="196.4" stroke="#ff0000" stroke-width="2.8"/>
<circle cx="1533.3" cy="196.4" r="6.3" fill="#ff0000"/>
<text x="1588" y="149.3" font-size="37"><tspan font-style="italic">H</tspan><tspan font-size="22" dy="13">y</tspan><tspan dy="-13">=+500 Oe</tspan></text>
<text x="1588" y="208.9" font-size="37"><tspan font-style="italic">H</tspan><tspan font-size="22" dy="13">y</tspan><tspan dy="-13">= -500 Oe</tspan></text>
<line x1="1039.0" y1="243.0" x2="1066.5" y2="212.8" stroke="#ff0000" stroke-width="3"/><polygon points="1080.0,198.0 1070.0,218.6 1066.4,213.0 1060.4,209.9" fill="#ff0000"/>
<text x="1031" y="228" font-size="31" fill="#ff0000">4</text>
<line x1="1211.0" y1="194.0" x2="1203.8" y2="245.2" stroke="#000" stroke-width="3"/><polygon points="1201.0,265.0 1197.6,242.3 1203.8,245.0 1210.5,244.1" fill="#000"/>
<text x="1210" y="234" font-size="31" fill="#000">3</text>
<line x1="1351.0" y1="187.0" x2="1356.2" y2="243.1" stroke="#ff0000" stroke-width="3"/><polygon points="1358.0,263.0 1349.5,241.7 1356.1,242.8 1362.5,240.5" fill="#ff0000"/>
<text x="1332" y="258" font-size="31" fill="#ff0000">5</text>
<line x1="1526.0" y1="252.0" x2="1497.8" y2="222.5" stroke="#000" stroke-width="3"/><polygon points="1484.0,208.0 1503.9,219.4 1498.0,222.6 1494.5,228.4" fill="#000"/>
<text x="1515" y="232" font-size="31" fill="#000">2</text>
<line x1="1394.0" y1="346.0" x2="1400.6" y2="292.8" stroke="#000" stroke-width="3"/><polygon points="1403.0,273.0 1406.8,295.6 1400.5,293.1 1393.9,294.0" fill="#000"/>
<text x="1402" y="347" font-size="31" fill="#000">5</text>
<line x1="1345.0" y1="538.0" x2="1350.9" y2="483.9" stroke="#000" stroke-width="3"/><polygon points="1353.0,464.0 1357.1,486.6 1350.8,484.1 1344.2,485.2" fill="#000"/>
<text x="1327" y="530" font-size="31" fill="#000">1</text>
<line x1="1384.0" y1="538.0" x2="1422.7" y2="510.6" stroke="#ff0000" stroke-width="3"/><polygon points="1439.0,499.0 1424.8,517.0 1422.5,510.7 1417.3,506.4" fill="#ff0000"/>
<text x="1391" y="517" font-size="31" fill="#ff0000">1</text>
<line x1="1559.0" y1="436.0" x2="1534.7" y2="465.6" stroke="#ff0000" stroke-width="3"/><polygon points="1522.0,481.0 1531.0,459.9 1534.9,465.4 1541.0,468.1" fill="#ff0000"/>
<text x="1549" y="486" font-size="31" fill="#ff0000">2</text>
<line x1="1046.0" y1="480.0" x2="1067.6" y2="507.3" stroke="#000" stroke-width="3"/><polygon points="1080.0,523.0 1061.3,509.8 1067.4,507.1 1071.5,501.7" fill="#000"/>
<text x="1038" y="531" font-size="31" fill="#000">4</text>
<line x1="1209.0" y1="522.0" x2="1201.8" y2="471.8" stroke="#ff0000" stroke-width="3"/><polygon points="1199.0,452.0 1208.5,472.9 1201.9,472.0 1195.7,474.7" fill="#ff0000"/>
<text x="1215" y="508" font-size="31" fill="#ff0000">3</text>
</g>
<g id="pc">
<line x1="640.4" y1="789.9" x2="640.4" y2="1297.3" stroke="#0000ff" stroke-width="2.2" stroke-dasharray="9,6"/>
<line x1="676.9" y1="789.9" x2="676.9" y2="1297.3" stroke="#ff8000" stroke-width="2.2" stroke-dasharray="9,6"/>
<line x1="542.5" y1="1043.6" x2="1164.2" y2="1043.6" stroke="#000" stroke-width="3"/>
<line x1="655" y1="789.9" x2="655" y2="1297.3" stroke="#000" stroke-width="3.6"/>
<polyline points="542.5,1243.6 600.0,1243.6" fill="none" stroke="#ff8000" stroke-width="3" stroke-linejoin="round"/>
<polyline points="663.0,849.3 654.7,926.0 647.5,1075.5 639.7,1165.9 631.0,1187.7 623.5,1206.4 614.8,1225.0 608.6,1237.6 602.0,1243.6" fill="none" stroke="#ff8000" stroke-width="4.4" stroke-linejoin="round"/>
<rect x="650.7" y="922.0" width="8" height="8" fill="#ff8000"/><rect x="643.5" y="1071.5" width="8" height="8" fill="#ff8000"/><rect x="635.7" y="1161.9" width="8" height="8" fill="#ff8000"/><rect x="627.0" y="1183.7" width="8" height="8" fill="#ff8000"/><rect x="619.5" y="1202.4" width="8" height="8" fill="#ff8000"/><rect x="610.8" y="1221.0" width="8" height="8" fill="#ff8000"/>
<polyline points="702.0,1243.6 707.7,926.0 714.5,851.0 716.0,846.3" fill="none" stroke="#ff8000" stroke-width="4.4" stroke-linejoin="round"/>
<rect x="703.7" y="922.0" width="8" height="8" fill="#ff8000"/>
<line x1="668" y1="1243.6" x2="702" y2="1243.6" stroke="#ff8000" stroke-width="9"/>
<line x1="714" y1="846.3" x2="1056" y2="846.3" stroke="#ff8000" stroke-width="9"/>
<polyline points="955.5,849.3 964.2,870.3 971.1,894.6 979.1,936.2 985.0,1151.4 993.0,1237.0" fill="none" stroke="#ff8000" stroke-width="4.4" stroke-linejoin="round"/>
<rect x="960.2" y="866.3" width="8" height="8" fill="#ff8000"/><rect x="967.1" y="890.6" width="8" height="8" fill="#ff8000"/><rect x="975.1" y="932.2" width="8" height="8" fill="#ff8000"/><rect x="981.0" y="1147.4" width="8" height="8" fill="#ff8000"/>
<polyline points="1052.7,846.3 1055.0,950.0 1061.3,1238.0" fill="none" stroke="#ff8000" stroke-width="4.4" stroke-linejoin="round"/>
<line x1="993" y1="1243.6" x2="1062" y2="1243.6" stroke="#ff8000" stroke-width="8"/>
<line x1="930" y1="847.3" x2="955" y2="847.3" stroke="#ff8000" stroke-width="4"/>
<polyline points="542.5,1243.6 598.0,1243.6" fill="none" stroke="#0000ff" stroke-width="3.4" stroke-linejoin="round"/>
<line x1="597" y1="1243.6" x2="668" y2="1243.6" stroke="#0000ff" stroke-width="9"/>
<line x1="604" y1="846.3" x2="1011" y2="846.3" stroke="#0000ff" stroke-width="9"/>
<polyline points="608.0,846.3 600.8,1243.6" fill="none" stroke="#0000ff" stroke-width="4.6" stroke-linejoin="round"/>
<polyline points="704.0,846.3 699.0,855.8 692.0,885.4 684.0,915.0 676.2,947.8 674.0,1038.0 670.9,1194.0 669.3,1236.0 668.0,1243.6" fill="none" stroke="#0000ff" stroke-width="4.4" stroke-linejoin="round"/>
<rect x="695.0" y="851.8" width="8" height="8" fill="#0000ff"/><rect x="688.0" y="881.4" width="8" height="8" fill="#0000ff"/><rect x="680.0" y="911.0" width="8" height="8" fill="#0000ff"/><rect x="672.2" y="943.8" width="8" height="8" fill="#0000ff"/><rect x="665.3" y="1232.0" width="8" height="8" fill="#0000ff"/>
<polyline points="948.6,846.3 955.5,1243.6" fill="none" stroke="#0000ff" stroke-width="4.6" stroke-linejoin="round"/>
<line x1="951" y1="1243.6" x2="1164.2" y2="1243.6" stroke="#0000ff" stroke-width="9"/>
<polyline points="1009.3,846.3 1016.2,1095.9 1023.2,1161.8 1030.0,1177.4 1038.8,1203.4 1047.5,1224.2 1052.7,1237.0" fill="none" stroke="#0000ff" stroke-width="4.4" stroke-linejoin="round"/>
<rect x="1012.2" y="1091.9" width="8" height="8" fill="#0000ff"/><rect x="1019.2" y="1157.8" width="8" height="8" fill="#0000ff"/><rect x="1026.0" y="1173.4" width="8" height="8" fill="#0000ff"/><rect x="1034.8" y="1199.4" width="8" height="8" fill="#0000ff"/><rect x="1043.5" y="1220.2" width="8" height="8" fill="#0000ff"/>
<circle cx="653.8" cy="846.3" r="9" fill="#0000ff"/>
<circle cx="654.5" cy="1248" r="8.5" fill="#0000ff"/>
<path d="M1164.2,835.6 L1164.2,789.9 L542.5,789.9 L542.5,1297.3 L1164.2,1297.3 L1164.2,958.8" fill="none" stroke="#000" stroke-width="3.6" stroke-linecap="square"/>
<path d="M542.5,1254.8h7M542.5,1212.6h11M542.5,1170.3h7M542.5,1128.1h11M542.5,1085.8h7M542.5,1043.6h11M542.5,1001.3h7M542.5,959.1h11M542.5,916.8h7M542.5,874.6h11M542.5,832.3h7M570.3,1297.3v-7M655.0,1297.3v-11M739.7,1297.3v-7M824.4,1297.3v-11M909.0,1297.3v-7M993.7,1297.3v-11M1078.4,1297.3v-7" stroke="#000" stroke-width="3" fill="none"/>
<text x="531" y="802.1" font-size="41" text-anchor="end">1.5</text>
<text x="531" y="886.6" font-size="41" text-anchor="end">1.0</text>
<text x="531" y="971.1" font-size="41" text-anchor="end">0.5</text>
<text x="531" y="1055.6" font-size="41" text-anchor="end">0.0</text>
<text x="531" y="1140.1" font-size="41" text-anchor="end">-0.5</text>
<text x="531" y="1224.6" font-size="41" text-anchor="end">-1.0</text>
<text x="531" y="1309.1" font-size="41" text-anchor="end">-1.5</text>
<text x="655.0" y="1341.5" font-size="41" text-anchor="middle">0</text>
<text x="824.4" y="1341.5" font-size="41" text-anchor="middle">90</text>
<text x="993.7" y="1341.5" font-size="41" text-anchor="middle">180</text>
<text x="1163.1" y="1341.5" font-size="41" text-anchor="middle">270</text>
<text x="779" y="1398" font-size="45"><tspan font-style="italic">β</tspan><tspan font-size="47"> (deg)</tspan></text>
<text transform="translate(444.5,1129.5) rotate(-90)" font-size="45"><tspan font-style="italic">R</tspan><tspan font-size="27" dy="17">H</tspan><tspan dy="-17"> (kΩ)</tspan></text>
<text x="393" y="778" font-size="32">(c)</text>
<text x="561" y="771.5" font-size="39" fill="#0000ff">-7.91</text>
<text x="656" y="771.5" font-size="39" fill="#ff8000">11.49</text>
<g font-size="39.5"><text x="793" y="766.7" font-style="italic">T</text><text x="823" y="766.7">= 40 K</text><text x="944" y="766.7" font-style="italic">H</text><text x="972" y="780" font-size="24">ext</text><text x="1003" y="766.7">= +500 Oe</text></g>
<text x="663" y="832.4" font-size="37" font-weight="bold" fill="#0000ff">B</text>
<text x="660" y="1282" font-size="37" font-weight="bold" fill="#0000ff">A</text>
<text x="559" y="1020" font-size="37" font-weight="bold" font-style="italic" fill="#f08a4b">β<tspan font-size="22" dy="9" font-style="normal" font-weight="normal">(−,⟵)</tspan></text>
<text x="716" y="1020" font-size="37" font-weight="bold" font-style="italic" fill="#f08a4b">β<tspan font-size="22" dy="9" font-style="normal" font-weight="normal">(−,⟶)</tspan></text>
<text x="553" y="1085" font-size="37" font-weight="bold" font-style="italic" fill="#0000ff">β<tspan font-size="22" dy="9" font-style="normal" font-weight="normal">(+,⟵)</tspan></text>
<text x="685" y="1085" font-size="37" font-weight="bold" font-style="italic" fill="#0000ff">β<tspan font-size="22" dy="9" font-style="normal" font-weight="normal">(+,⟶)</tspan></text>
<polygon points="577.4,1186.0 584.9,1177.0 580.9,1177.0 580.9,1153.0 573.9,1153.0 573.9,1177.0 569.9,1177.0" fill="#0000ff"/>
<polygon points="628.0,1131.6 635.5,1122.6 631.5,1122.6 631.5,1097.0 624.5,1097.0 624.5,1122.6 620.5,1122.6" fill="#f08050"/>
<polygon points="684.0,1156.5 691.5,1165.5 687.5,1165.5 687.5,1186.0 680.5,1186.0 680.5,1165.5 676.5,1165.5" fill="#0000ff"/>
<polygon points="722.0,1099.0 729.5,1108.0 725.5,1108.0 725.5,1130.0 718.5,1130.0 718.5,1108.0 714.5,1108.0" fill="#f08050"/>
<polygon points="934.0,1153.0 941.5,1162.0 937.5,1162.0 937.5,1186.0 930.5,1186.0 930.5,1162.0 926.5,1162.0" fill="#0000ff"/>
<polygon points="964.0,1097.6 971.5,1106.6 967.5,1106.6 967.5,1130.5 960.5,1130.5 960.5,1106.6 956.5,1106.6" fill="#f08050"/>
<polygon points="1040.5,1184.0 1048.0,1175.0 1044.0,1175.0 1044.0,1153.0 1037.0,1153.0 1037.0,1175.0 1033.0,1175.0" fill="#0000ff"/>
<polygon points="1075.0,1130.5 1082.5,1121.5 1078.5,1121.5 1078.5,1097.6 1071.5,1097.6 1071.5,1121.5 1067.5,1121.5" fill="#f08050"/>
<line x1="1065" y1="873.3" x2="1152.5" y2="873.3" stroke="#0000ff" stroke-width="4.5" stroke-linecap="round"/>
<rect x="1106.7" y="867.8" width="10" height="11" fill="#0000ff"/>
<line x1="1065" y1="922.5" x2="1159" y2="922.5" stroke="#ff8000" stroke-width="4.5" stroke-linecap="round"/>
<rect x="1106.7" y="917" width="10" height="11" fill="#ff8000"/>
<text x="1171" y="888.3" font-size="41.5">+ 0.3 mA</text>
<text x="1179" y="937.5" font-size="41.5">- 0.3 mA</text>
<g stroke="#000" stroke-width="2.2" fill="none">
<line x1="1396.7" y1="1020" x2="1396.7" y2="876"/>
<line x1="1396.7" y1="1020" x2="1562" y2="1020"/>
<line x1="1396.7" y1="1020" x2="1303" y2="1118"/>
<line x1="1238.9" y1="1020" x2="1316.7" y2="1020" stroke-dasharray="8,6"/>
<line x1="1396.7" y1="1062" x2="1396.7" y2="1169" stroke-dasharray="8,6"/>
<line x1="1396.7" y1="1020" x2="1490.3" y2="923.3" stroke-dasharray="8,6"/>
</g>
<polygon points="1396.7,870 1393.2,880 1400.2,880" fill="#000"/>
<polygon points="1568,1020 1558,1016.5 1558,1023.5" fill="#000"/>
<polygon points="1299,1122.5 1302.5,1112 1308.5,1117.8" fill="#000"/>
<line x1="1316.7" y1="1020.5" x2="1388" y2="1020.5" stroke="#ff0000" stroke-width="2.6"/>
<polygon points="1395,1020.5 1385,1016 1385,1025" fill="#ff0000"/>
<line x1="1397" y1="1020" x2="1473" y2="981.5" stroke="#f7c21c" stroke-width="2.6"/>
<polygon points="1479.5,978.5 1468,979 1472.5,988" fill="#f7c21c"/>
<path d="M1443,997 Q1452,1007 1454,1020" stroke="#5b9bd5" stroke-width="1.8" fill="none"/>
<text x="1409" y="880" font-size="31" font-style="italic">z</text>
<text x="1436" y="881" font-size="28.5">[001]</text>
<text x="1567" y="1049" font-size="31" font-style="italic">y</text>
<text x="1595" y="1051" font-size="28.5">[-110]</text>
<text x="1273" y="1153" font-size="31" font-style="italic">x</text>
<text x="1303" y="1154" font-size="28.5">[110]</text>
<text x="1402" y="1056" font-size="31" font-style="italic">o</text>
<text x="1316" y="1008" font-size="27" font-style="italic" font-weight="bold" fill="#ff0000">J</text>
<text x="1481" y="998" font-size="27" font-weight="bold" fill="#f7c21c">β</text>
<text x="1522" y="991" font-size="31" font-style="italic" font-weight="bold" fill="#ed7d31">H<tspan font-size="21" dy="8" font-style="normal">ext</tspan></text>
</g>
</svg></body></html>
